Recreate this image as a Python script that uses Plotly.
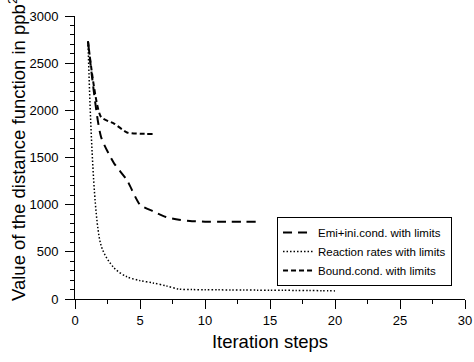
import plotly.graph_objects as go

# Data
x_emi = list(range(1, 15))
y_emi = [2730, 1720, 1440, 1260, 1000, 930, 870, 840, 825, 820, 820, 820, 820, 820]

x_react = list(range(1, 21))
y_react = [2730, 570, 330, 235, 195, 170, 140, 105, 100, 98, 97, 96, 95, 94, 93, 92, 91, 90, 88, 86]

x_bound = list(range(1, 7))
y_bound = [2730, 1930, 1860, 1765, 1752, 1750]

names = ["Emi+ini.cond. with limits", "Reaction rates with limits", "Bound.cond. with limits"]

FONT = "Liberation Sans, Arial, Helvetica, sans-serif"

fig = go.Figure()
fig.add_trace(go.Scatter(x=x_emi, y=y_emi, mode="lines", name=names[0],
                         line=dict(color="black", width=2, dash="9px,6px", shape="spline", smoothing=0.6)))
fig.add_trace(go.Scatter(x=x_react, y=y_react, mode="lines", name=names[1],
                         line=dict(color="black", width=1.5, dash="1.5px,2px", shape="spline", smoothing=0.8)))
fig.add_trace(go.Scatter(x=x_bound, y=y_bound, mode="lines", name=names[2],
                         line=dict(color="black", width=2, dash="5px,3px", shape="spline", smoothing=0.6)))

fig.update_layout(
    width=474, height=362,
    margin=dict(l=75, r=9, t=16, b=63, autoexpand=False),
    paper_bgcolor="white", plot_bgcolor="white",
    font=dict(family=FONT, color="black", size=13),
    showlegend=True,
    legend=dict(x=0.518, y=0.29, xanchor="left", yanchor="top",
                bordercolor="black", borderwidth=1, bgcolor="white",
                font=dict(size=11.5, family=FONT), tracegroupgap=0),
)
fig.update_xaxes(range=[0, 30], tickmode="linear", tick0=0, dtick=5,
                 showline=True, linecolor="black", linewidth=1,
                 ticks="outside", ticklen=9, tickcolor="black",
                 minor=dict(dtick=2.5, ticks="outside", ticklen=4, tickcolor="black"),
                 showgrid=False, zeroline=False, automargin=False,
                 tickfont=dict(size=13),
                 title=dict(text="Iteration steps", font=dict(size=18.5), standoff=8))
fig.update_yaxes(range=[0, 3000], tickmode="linear", tick0=0, dtick=500,
                 showline=True, linecolor="black", linewidth=1,
                 ticks="outside", ticklen=9, tickcolor="black",
                 minor=dict(dtick=100, ticks="outside", ticklen=4, tickcolor="black"),
                 showgrid=False, zeroline=False, automargin=False,
                 tickfont=dict(size=13), ticklabelstandoff=4)
fig.add_annotation(text="Value of the distance function in ppb<sup>2</sup>",
                   xref="paper", yref="paper", x=-72/390, y=0.53,
                   xanchor="left", yanchor="middle", textangle=-90,
                   showarrow=False, font=dict(size=18.5, family=FONT))
fig.write_html("out.html", config={"displayModeBar": False},
               post_script="document.body.style.margin='0';document.body.style.overflow='hidden';")
